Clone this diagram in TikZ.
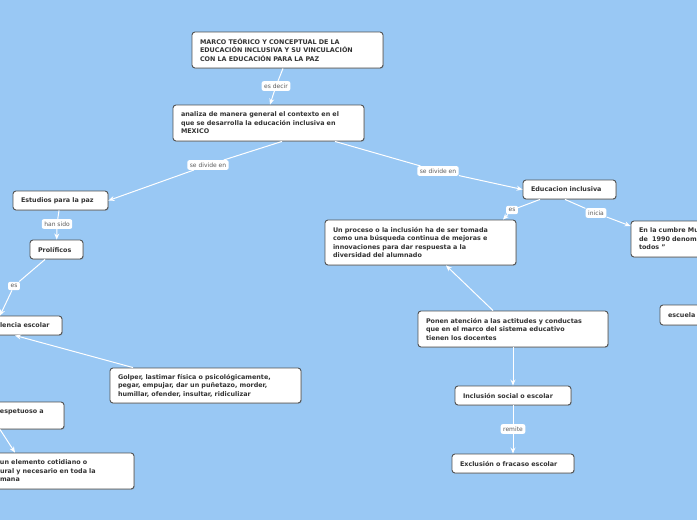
\documentclass[tikz,border=0pt]{standalone}
\usepackage{fontspec}
\setmainfont{DejaVu Sans}
\usetikzlibrary{shadows,arrows.meta}
\definecolor{bg}{HTML}{99C8F4}
\definecolor{tx}{HTML}{333333}
\tikzset{
 bx/.style={draw=tx!85,line width=0.9pt,rounded corners=3pt,fill=white,align=left,inner xsep=8pt,inner ysep=2pt,
   font=\fontsize{6.4}{8.5}\selectfont\bfseries,text=tx,drop shadow={shadow xshift=0.8pt,shadow yshift=-0.8pt,opacity=0.35}},
 lb/.style={fill=white,rounded corners=2pt,font=\fontsize{6}{7}\selectfont,text=tx!80,inner sep=2.5pt},
 ln/.style={draw=white,line width=1pt},
 ar/.style={ln,-{Stealth[length=6pt,width=5pt]}}
}
\newcommand{\bx}[6]{\node[bx,minimum width={#4-#2},minimum height={#5-#3},text width={#4-#2-16}] (#1) at ({(#2+#4)/2},{(#3+#5)/2}) {#6};}
\newcommand{\hid}[1]{\leavevmode\llap{#1}}
\begin{document}
\begin{tikzpicture}[x=1pt,y=-1pt]
\fill[bg] (0,0) rectangle (697,520);
\useasboundingbox (0,0) rectangle (697,520);
\bx{t}{192}{32}{383}{68}{MARCO TEÓRICO Y CONCEPTUAL DE LA\\EDUCACIÓN INCLUSIVA Y SU VINCULACIÓN\\CON LA EDUCACIÓN PARA LA PAZ}
\bx{a}{173}{105}{364}{141}{analiza de manera general el contexto en el\\que se desarrolla la educación inclusiva en\\MEXICO}
\bx{e}{13}{191}{108}{210}{Estudios para la paz}
\bx{p}{30}{240}{83}{259}{Prolíficos}
\bx{v}{-8}{316}{62}{335}{\hid{Vio}lencia escolar}
\bx{g}{110}{368}{301}{403}{Golper, lastimar física o psicológicamente,\\pegar, empujar, dar un puñetazo, morder,\\humillar, ofender, insultar, ridiculizar}
\bx{r}{-8}{402}{64}{429}{\hid{R}espetuoso a\\\mbox{}}
\bx{el}{-8}{453}{134}{489}{\hid{Es }un elemento cotidiano o\\\hid{nat}ural y necesario en toda la\\\hid{hu}mana}
\bx{ei}{523}{180}{616}{199}{Educacion inclusiva}
\bx{u}{325}{220}{516}{265}{Un proceso o la inclusión ha de ser tomada\\como una búsqueda continua de mejoras e\\innovaciones para dar respuesta a la\\diversidad del alumnado}
\bx{c}{631}{221}{830}{257}{En la cumbre Mundial de Jomtien de\\de~ 1990 denominada Educación para\\todos "}
\bx{s}{660}{305}{780}{325}{escuela}
\bx{po}{418}{311}{608}{347}{Ponen atención a las actitudes y conductas\\que en el marco del sistema educativo\\tienen los docentes}
\bx{is}{455}{386}{571}{405}{Inclusión social o escolar}
\bx{ex}{452}{454}{574}{473}{Exclusión o fracaso escolar}
% connectors
\node[lb] (l1) at (276,86) {es decir};
\draw[ln] (t.south -| 283,0) -- (l1);
\draw[ar] (l1) -- (a.north -| 270,0);
\node[lb] (l2) at (208,165) {se divide en};
\draw[ln] (a.south -| 282,0) -- (l2);
\draw[ar] (l2) -- (e.east);
\node[lb] (l3) at (438,171) {se divide en};
\draw[ln] (a.south -| 335,0) -- (l3);
\draw[ar] (l3) -- (ei.west);
\node[lb] (l4) at (57,224) {han sido};
\draw[ln] (e) -- (l4);
\draw[ar] (l4) -- (p);
\node[lb] (l5) at (14,286) {es};
\draw[ln] (p.south -| 45,0) -- (l5);
\draw[ar] (l5) -- (v.north -| 0,0);
\draw[ar] (g.north -| 133,0) -- (v.south -| 15,0);
\draw[ar] (r.south -| 0,0) -- (el.north -| 15,0);
\node[lb] (l6) at (512,210) {es};
\draw[ln] (ei.south -| 540,0) -- (l6);
\draw[ar] (l6) -- (u.north -| 503,0);
\node[lb] (l7) at (596,213) {inicia};
\draw[ln] (ei.south -| 565,0) -- (l7);
\draw[ar] (l7) -- (c.west |- 0,226);
\draw[ar] (po.north -| 493,0) -- (u.south -| 446,0);
\draw[ar] (po.south -| 513,0) -- (is.north -| 513,0);
\node[lb] (l8) at (513,429) {remite};
\draw[ln] (is) -- (l8);
\draw[ar] (l8) -- (ex);
\end{tikzpicture}
\end{document}
